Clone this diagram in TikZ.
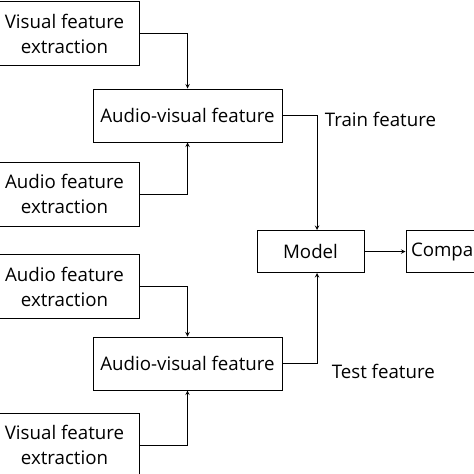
\documentclass[tikz,border=0pt]{standalone}
\usepackage{fontspec}
\setmainfont{Open Sans}
\usetikzlibrary{positioning}
\usetikzlibrary{arrows}

\begin{document}
\begin{tikzpicture}[>=stealth, x=1pt, y=-1pt, line width=1pt, font=\fontsize{18.7}{25}\selectfont,
	box/.style={draw, align=center, inner sep=5pt},
	extbox/.style={box, minimum width=149pt, minimum height=64pt},
	avbox/.style={box, minimum width=189pt, minimum height=53pt},
	]
	\useasboundingbox (0,0) rectangle (474,474);
	
	\node[extbox] (vis1) at (64.5,33.5) {Visual feature\\extraction};
	\node[extbox] (aud1) at (64.5,194) {Audio feature\\extraction};
	\node[extbox] (aud2) at (64.5,286.5) {Audio feature\\extraction};
	\node[extbox] (vis2) at (64.5,445) {Visual feature\\extraction};
	\node[avbox] (av1) at (187.5,115.5) {Audio-visual feature};
	\node[avbox] (av2) at (187.5,363.5) {Audio-visual feature};
	\node[box, minimum width=107pt, minimum height=42pt] (model) at (310.5,251.5) {Model};
	\node[box, right=41pt of model, minimum height=42pt, text width=80pt, align=left] (comp) {Compa};
	\node[anchor=base west] (train) at (321,126) {Train feature};
	\node[anchor=base west] (test) at (328,378) {Test feature};
	\draw[->] (vis1.east) -| (av1.north);
	\draw[->] (aud1.east) -| (av1.south);
	\draw[->] (aud2.east) -| (av2.north);
	\draw[->] (vis2.east) -| (av2.south);
	\draw[->] (av1.east) -| ([xshift=6.5pt]model.north);
	\draw[->] (av2.east) -| ([xshift=6.5pt]model.south);
	\draw[->] (model) -- (comp);
\end{tikzpicture}
\end{document}
